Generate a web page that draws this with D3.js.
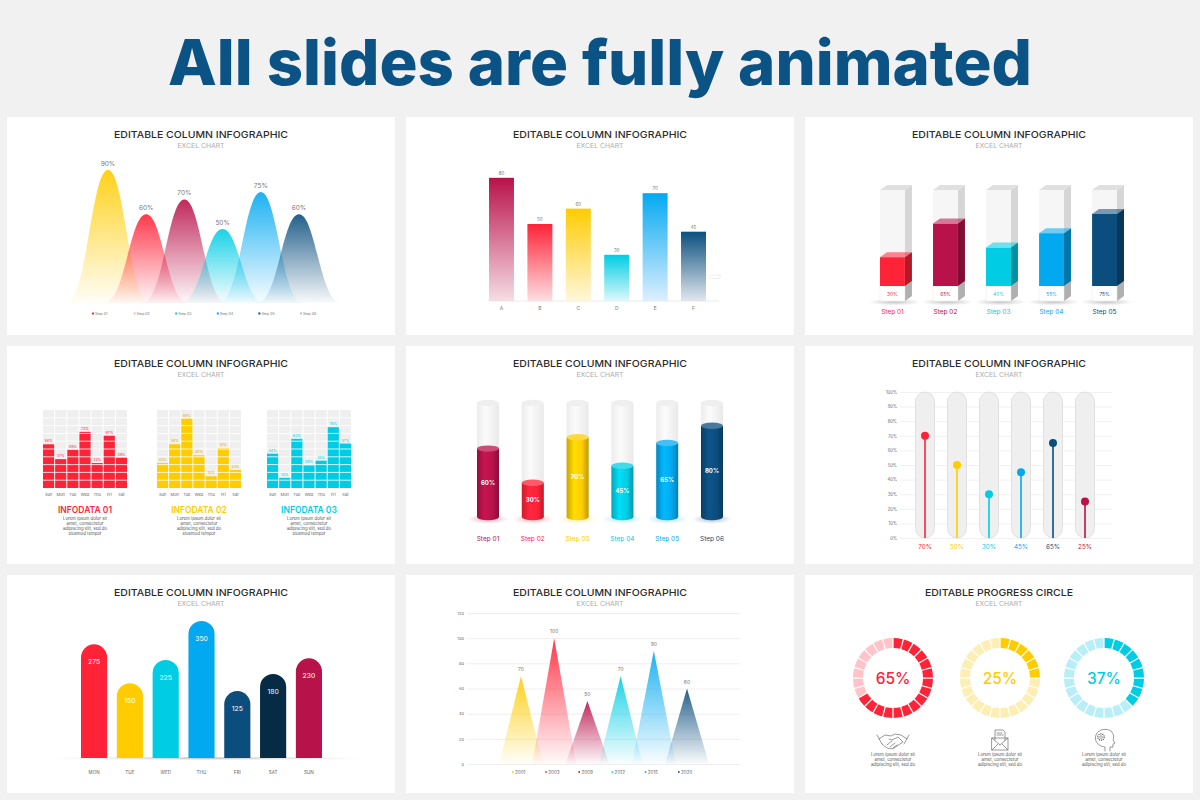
<!DOCTYPE html>
<html>
<head>
<meta charset="utf-8">
<script src="https://cdn.jsdelivr.net/npm/d3@7"></script>
<style>
  html, body { margin: 0; padding: 0; background: #f1f1f1; }
  svg text { font-family: Inter, "Open Sans", sans-serif; }
</style>
</head>
<body>
<svg id="chart" width="1200" height="800"></svg>
<script>
// colours used across the slides
var RED = "#ff2338", YELLOW = "#ffcc00", CRIMSON = "#b8124a", CYAN = "#00cde4",
    BLUE = "#03a9f0", NAVY = "#0b4e7e", INK = "#062b45";

// slide 1 - bell curves
var bellSteps = ["Step 01", "Step 02", "Step 03", "Step 04", "Step 05", "Step 06"];
var bellValues = [90, 60, 70, 50, 75, 60];
var bellColors = [YELLOW, RED, CRIMSON, CYAN, BLUE, NAVY];
var bellLegendColors = [RED, "#ffb3bb", CYAN, BLUE, NAVY, "#a9c4d8"];

// slide 2 - gradient columns
var colCats = ["A", "B", "C", "D", "E", "F"];
var colValues = [80, 50, 60, 30, 70, 45];
var colColors = [CRIMSON, RED, YELLOW, CYAN, BLUE, NAVY];
var colPale = ["#f6dde4", "#ffdfe2", "#fff7dc", "#dff8fb", "#ddefff", "#e2e7ed"];

// slide 3 - 3d boxes
var boxSteps = ["Step 01", "Step 02", "Step 03", "Step 04", "Step 05"];
var boxValues = [30, 65, 40, 55, 75];
var boxColors = [RED, CRIMSON, CYAN, BLUE, NAVY];

// slide 4 - grid columns
var days = ["Sun", "Mon", "Tue", "Wed", "Thu", "Fri", "Sat"];
var info1 = [56, 37, 49, 72, 32, 67, 39];
var info2 = [32, 56, 89, 42, 15, 51, 23];
var info3 = [44, 13, 63, 29, 35, 78, 57];
var infoNames = ["INFODATA 01", "INFODATA 02", "INFODATA 03"];
var infoColors = [RED, YELLOW, CYAN];
var infoLabelColors = [RED, "#d9a900", CYAN];
var lorem4 = ["Lorem ipsum dolor sit", "amet, consectetur", "adipiscing elit, sed do", "eiusmod tempor"];

// slide 5 - cylinders
var cylSteps = ["Step 01", "Step 02", "Step 03", "Step 04", "Step 05", "Step 06"];
var cylValues = [60, 30, 70, 45, 65, 80];
var cylColors = [CRIMSON, RED, YELLOW, CYAN, BLUE, NAVY];

// slide 6 - lollipops
var lolValues = [70, 50, 30, 45, 65, 25];
var lolColors = [RED, YELLOW, CYAN, BLUE, NAVY, CRIMSON];
var pctTicks = [0, 10, 20, 30, 40, 50, 60, 70, 80, 90, 100];

// slide 7 - rounded columns
var weekDays = ["MON", "TUE", "WED", "THU", "FRI", "SAT", "SUN"];
var weekValues = [275, 150, 225, 350, 125, 180, 230];
var weekColors = [RED, YELLOW, CYAN, BLUE, NAVY, INK, CRIMSON];

// slide 8 - triangles
var years = ["2001", "2003", "2009", "2012", "2015", "2020"];
var yearValues = [70, 100, 50, 70, 90, 60];
var yearColors = [YELLOW, RED, CRIMSON, CYAN, BLUE, NAVY];
var yearTicks = [0, 20, 40, 60, 80, 100, 120];

// slide 9 - progress circles
var progValues = [65, 25, 37];
var progColors = [RED, YELLOW, CYAN];
var progPale = ["#ffc3c9", "#fdeeb3", "#b8eef7"];
var lorem3 = ["Lorem ipsum dolor sit", "amet, consectetur", "adipiscing elit, sed do"];
var ringSegments = 24;

var svg = d3.select("#chart");
var defs = svg.append("defs");

function vGrad(id, c1, c2, o1, o2) {
  var g = defs.append("linearGradient").attr("id", id)
      .attr("x1", 0).attr("y1", 0).attr("x2", 0).attr("y2", 1);
  g.append("stop").attr("offset", "0%").attr("stop-color", c1).attr("stop-opacity", o1);
  g.append("stop").attr("offset", "100%").attr("stop-color", c2).attr("stop-opacity", o2);
  return "url(#" + id + ")";
}
function hGrad(id, stops) {
  var g = defs.append("linearGradient").attr("id", id)
      .attr("x1", 0).attr("y1", 0).attr("x2", 1).attr("y2", 0);
  stops.forEach(function(s) {
    g.append("stop").attr("offset", s[0]).attr("stop-color", s[1]).attr("stop-opacity", s[2] == null ? 1 : s[2]);
  });
  return "url(#" + id + ")";
}
function rGrad(id, c, o) {
  var g = defs.append("radialGradient").attr("id", id);
  g.append("stop").attr("offset", "0%").attr("stop-color", c).attr("stop-opacity", o);
  g.append("stop").attr("offset", "100%").attr("stop-color", c).attr("stop-opacity", 0);
  return "url(#" + id + ")";
}
function txt(g, x, y, s, size, fill, anchor, weight) {
  return g.append("text").attr("x", x).attr("y", y)
    .attr("font-size", size).attr("fill", fill)
    .attr("text-anchor", anchor || "middle")
    .attr("font-weight", weight || 400)
    .text(s);
}

// big heading
svg.append("text")
  .attr("x", 600).attr("y", 85)
  .attr("text-anchor", "middle")
  .attr("font-size", 63).attr("font-weight", 800)
  .attr("fill", "#0c5385")
  .attr("textLength", 864).attr("lengthAdjust", "spacingAndGlyphs")
  .text("All slides are fully animated");

// white slide cards
var colX = [7, 406, 805], rowY = [117, 346, 575], PW = 388, PH = 218;
function panel(c, r, title, tw) {
  var g = svg.append("g").attr("transform", "translate(" + colX[c] + "," + rowY[r] + ")");
  g.append("rect").attr("width", PW).attr("height", PH).attr("fill", "#fff");
  g.append("text").attr("x", PW / 2).attr("y", 21).attr("text-anchor", "middle")
    .attr("font-size", 9.5).attr("font-weight", 500).attr("fill", "#2b2b2b")
    .attr("textLength", tw).attr("lengthAdjust", "spacingAndGlyphs").text(title);
  g.append("text").attr("x", PW / 2).attr("y", 31).attr("text-anchor", "middle")
    .attr("font-size", 6).attr("fill", "#ababab")
    .attr("textLength", 47).attr("lengthAdjust", "spacingAndGlyphs").text("EXCEL CHART");
  return g;
}

// ---------- slide 1: bells ----------
var p1 = panel(0, 0, "EDITABLE COLUMN INFOGRAPHIC", 174);
var x1 = d3.scalePoint().domain(bellSteps).range([101, 292]);
var y1 = d3.scaleLinear().domain([0, 100]).range([186, 38]);
bellSteps.forEach(function(s, i) {
  var cx = x1(s), top = y1(bellValues[i]), base = y1(0), w = 42;
  var p = d3.path();
  p.moveTo(cx - w, base);
  p.bezierCurveTo(cx - w * 0.5, base, cx - w * 0.4, top, cx, top);
  p.bezierCurveTo(cx + w * 0.4, top, cx + w * 0.5, base, cx + w, base);
  p.closePath();
  p1.append("path").attr("d", p.toString())
    .attr("fill", vGrad("bell" + i, bellColors[i], bellColors[i], 1, 0.03))
    .attr("opacity", 0.9);
  txt(p1, cx, top - 4, bellValues[i] + "%", 6.5, "#777");
});
var xl1 = d3.scalePoint().domain(bellSteps).range([86, 294]);
bellSteps.forEach(function(s, i) {
  p1.append("rect").attr("x", xl1(s) - 1).attr("y", y1(0) + 9.5).attr("width", 2).attr("height", 2)
    .attr("fill", bellLegendColors[i]);
  txt(p1, xl1(s) + 2, y1(0) + 12, s, 3.6, "#777", "start");
});

// ---------- slide 2: gradient columns ----------
var p2 = panel(1, 0, "EDITABLE COLUMN INFOGRAPHIC", 174);
var x2 = d3.scaleBand().domain(colCats).range([83, 300]).paddingInner(0.35);
var y2 = d3.scaleLinear().domain([0, 100]).range([184, 30]);
p2.append("line").attr("x1", 82).attr("x2", 313).attr("y1", y2(0)).attr("y2", y2(0))
  .attr("stroke", "#e6e6e6").attr("stroke-width", 0.8);
colCats.forEach(function(c, i) {
  p2.append("rect").attr("x", x2(c)).attr("y", y2(colValues[i]))
    .attr("width", x2.bandwidth()).attr("height", y2(0) - y2(colValues[i]))
    .attr("fill", vGrad("col" + i, colColors[i], colPale[i], 1, 1));
  txt(p2, x2(c) + x2.bandwidth() / 2, y2(colValues[i]) - 3, colValues[i], 4.5, "#777");
  txt(p2, x2(c) + x2.bandwidth() / 2, y2(0) + 9, c, 4.8, "#777");
});
p2.append("rect").attr("x", 304).attr("y", 158).attr("width", 10).attr("height", 3.5)
  .attr("fill", "#fff").attr("stroke", "#e2e2e2").attr("stroke-width", 0.5);

// ---------- slide 3: 3d boxes ----------
var p3 = panel(2, 0, "EDITABLE COLUMN INFOGRAPHIC", 174);
var x3 = d3.scaleBand().domain(boxSteps).range([75, 312]).paddingInner(0.53);
var y3 = d3.scaleLinear().domain([0, 100]).range([169, 73]);
var bw = x3.bandwidth(), ddx = 7, ddy = 5, boxBottom = 184;
var boxShadow = rGrad("boxShadow", "#000", 0.22);
function poly(pts) { return "M" + pts.map(function(p) { return p.join(","); }).join("L") + "Z"; }
boxSteps.forEach(function(s, i) {
  var x = x3(s), yt = y3(100), y0 = y3(0), yv = y3(boxValues[i]);
  var side = d3.color(boxColors[i]).darker(1).formatHex();
  p3.append("ellipse").attr("cx", x + bw / 2 + 2).attr("cy", boxBottom + 1)
    .attr("rx", 26).attr("ry", 3.5).attr("fill", boxShadow);
  // glass container
  p3.append("path").attr("d", poly([[x + bw, yt], [x + bw + ddx, yt - ddy], [x + bw + ddx, boxBottom - ddy], [x + bw, boxBottom]]))
    .attr("fill", "#d6d6d6");
  p3.append("rect").attr("x", x).attr("y", yt).attr("width", bw).attr("height", y0 - yt).attr("fill", "#f6f6f6");
  p3.append("path").attr("d", poly([[x, yt], [x + ddx, yt - ddy], [x + bw + ddx, yt - ddy], [x + bw, yt]]))
    .attr("fill", "#e0e0e0");
  // base box
  p3.append("path").attr("d", poly([[x + bw, y0], [x + bw + ddx, y0 - ddy], [x + bw + ddx, boxBottom - ddy], [x + bw, boxBottom]]))
    .attr("fill", "#b0b0b0");
  p3.append("rect").attr("x", x).attr("y", y0).attr("width", bw).attr("height", boxBottom - y0)
    .attr("fill", "#fff").attr("stroke", "#e8e8e8").attr("stroke-width", 0.5);
  // coloured fill
  p3.append("path").attr("d", poly([[x + bw, yv], [x + bw + ddx, yv - ddy], [x + bw + ddx, y0 - ddy], [x + bw, y0]]))
    .attr("fill", side);
  p3.append("rect").attr("x", x).attr("y", yv).attr("width", bw).attr("height", y0 - yv).attr("fill", boxColors[i]);
  p3.append("path").attr("d", poly([[x, yv], [x + ddx, yv - ddy], [x + bw + ddx, yv - ddy], [x + bw, yv]]))
    .attr("fill", boxColors[i]).attr("opacity", 0.55);
  txt(p3, x + bw / 2, y0 + 10, boxValues[i] + "%", 4.8, boxColors[i]);
  txt(p3, x + bw / 2, 197, s, 6.5, boxColors[i]);
});

// ---------- slide 4: grid columns ----------
var p4 = panel(0, 1, "EDITABLE COLUMN INFOGRAPHIC", 174);
var gridX = [36, 150, 260], gw = 84;
var y4 = d3.scaleLinear().domain([0, 100]).range([142, 64]);
[info1, info2, info3].forEach(function(vals, k) {
  var x4 = d3.scaleBand().domain(days).range([gridX[k], gridX[k] + gw]).paddingInner(0.08);
  var g = p4.append("g");
  g.selectAll(".bg").data(days).enter().append("rect")
    .attr("x", function(d) { return x4(d); }).attr("y", y4(100))
    .attr("width", x4.bandwidth()).attr("height", y4(0) - y4(100)).attr("fill", "#efefef");
  g.selectAll(".bar").data(vals).enter().append("rect")
    .attr("x", function(d, i) { return x4(days[i]); })
    .attr("y", function(d) { return y4(d); })
    .attr("width", x4.bandwidth())
    .attr("height", function(d) { return y4(0) - y4(d); })
    .attr("fill", infoColors[k]);
  g.selectAll(".row").data(y4.ticks(10).slice(1, -1)).enter().append("line")
    .attr("x1", gridX[k]).attr("x2", gridX[k] + gw)
    .attr("y1", function(d) { return y4(d); }).attr("y2", function(d) { return y4(d); })
    .attr("stroke", "#fff").attr("stroke-width", 0.8);
  vals.forEach(function(v, i) {
    var cx = x4(days[i]) + x4.bandwidth() / 2;
    txt(g, cx, y4(v) - 2, v + "%", 3.6, infoLabelColors[k]);
    txt(g, cx, 150, days[i], 4, "#666");
  });
  var mid = gridX[k] + gw / 2;
  txt(g, mid, 167, infoNames[k], 8.5, infoColors[k], "middle", 600);
  lorem4.forEach(function(l, j) { txt(g, mid, 174 + j * 5, l, 4.3, "#555"); });
});

// ---------- slide 5: cylinders ----------
var p5 = panel(1, 1, "EDITABLE COLUMN INFOGRAPHIC", 174);
var x5 = d3.scalePoint().domain(cylSteps).range([82, 306]);
var y5 = d3.scaleLinear().domain([0, 100]).range([171, 57]);
var cr = 11, cry = 3.2;
var glass = hGrad("glass", [["0%", "#ececec"], ["40%", "#fbfbfb"], ["100%", "#e9e9e9"]]);
cylSteps.forEach(function(s, i) {
  var cx = x5(s), c = d3.color(cylColors[i]);
  var body = hGrad("cyl" + i, [["0%", c.darker(0.6).formatHex()], ["35%", c.brighter(0.25).formatHex()],
                               ["70%", c.formatHex()], ["100%", c.darker(0.8).formatHex()]]);
  var top = d3.interpolateRgb(cylColors[i], "#ffffff")(0.25);
  p5.append("ellipse").attr("cx", cx).attr("cy", y5(0) + 2).attr("rx", 20).attr("ry", 5)
    .attr("fill", rGrad("glow" + i, cylColors[i], 0.35));
  p5.append("rect").attr("x", cx - cr).attr("y", y5(100)).attr("width", cr * 2).attr("height", y5(0) - y5(100))
    .attr("fill", glass);
  p5.append("ellipse").attr("cx", cx).attr("cy", y5(100)).attr("rx", cr).attr("ry", cry).attr("fill", "#efefef");
  p5.append("ellipse").attr("cx", cx).attr("cy", y5(0)).attr("rx", cr).attr("ry", cry).attr("fill", body);
  p5.append("rect").attr("x", cx - cr).attr("y", y5(cylValues[i])).attr("width", cr * 2)
    .attr("height", y5(0) - y5(cylValues[i])).attr("fill", body);
  p5.append("ellipse").attr("cx", cx).attr("cy", y5(cylValues[i])).attr("rx", cr).attr("ry", cry).attr("fill", top);
  txt(p5, cx, (y5(cylValues[i]) + y5(0)) / 2 + 2, cylValues[i] + "%", 6, "#fff", "middle", 700);
  txt(p5, cx, 195, s, 6.5, cylColors[i]);
});

// ---------- slide 6: lollipops ----------
var p6 = panel(2, 1, "EDITABLE COLUMN INFOGRAPHIC", 174);
var x6 = d3.scalePoint().domain(lolValues.map(function(d, i) { return i; })).range([120, 280]);
var y6 = d3.scaleLinear().domain([0, 100]).range([192, 46]);
p6.append("g").attr("transform", "translate(95,0)")
  .call(d3.axisLeft(y6).tickValues(pctTicks).tickSize(-212).tickPadding(3)
        .tickFormat(function(d) { return d + "%"; }))
  .call(function(g) { g.select(".domain").remove(); })
  .call(function(g) { g.selectAll("line").attr("stroke", "#f1f1f1"); })
  .call(function(g) {
    g.selectAll("text").attr("font-size", 4.2).attr("fill", "#666")
      .attr("font-family", "Inter, 'Open Sans', sans-serif");
  });
lolValues.forEach(function(v, i) {
  var cx = x6(i);
  p6.append("rect").attr("x", cx - 9.5).attr("y", y6(100)).attr("width", 19).attr("height", y6(0) - y6(100))
    .attr("rx", 9.5).attr("fill", "#efefef").attr("stroke", "#dadada").attr("stroke-width", 0.8);
  p6.append("line").attr("x1", cx).attr("x2", cx).attr("y1", y6(0)).attr("y2", y6(v))
    .attr("stroke", lolColors[i]).attr("stroke-width", 1.6);
  p6.append("circle").attr("cx", cx).attr("cy", y6(v)).attr("r", 4).attr("fill", lolColors[i]);
  txt(p6, cx, 203, v + "%", 6.3, lolColors[i]);
});

// ---------- slide 7: rounded columns ----------
var p7 = panel(0, 2, "EDITABLE COLUMN INFOGRAPHIC", 174);
var x7 = d3.scaleBand().domain(weekDays).range([74, 315]).paddingInner(0.27);
var y7 = d3.scaleLinear().domain([-90, 350]).range([183, 46]);
p7.append("rect").attr("x", 46).attr("y", y7(-90) - 0.8).attr("width", 308).attr("height", 2.2)
  .attr("fill", hGrad("floor", [["0%", "#ccc", 0], ["50%", "#bbb", 0.8], ["100%", "#ccc", 0]]));
weekDays.forEach(function(d, i) {
  var x = x7(d), w = x7.bandwidth(), r = w / 2, top = y7(weekValues[i]), bot = y7(-90);
  var p = d3.path();
  p.moveTo(x, bot);
  p.lineTo(x, top + r);
  p.arc(x + r, top + r, r, Math.PI, 0);
  p.lineTo(x + w, bot);
  p.closePath();
  p7.append("path").attr("d", p.toString()).attr("fill", weekColors[i]);
  txt(p7, x + r, top + 20, weekValues[i], 6.8, "#fff");
  txt(p7, x + r, 199, d, 4.6, "#666");
});

// ---------- slide 8: triangles ----------
var p8 = panel(1, 2, "EDITABLE COLUMN INFOGRAPHIC", 174);
var x8 = d3.scalePoint().domain(years).range([115, 281]);
var y8 = d3.scaleLinear().domain([0, 120]).range([189, 38]);
p8.append("g").attr("transform", "translate(62,0)")
  .call(d3.axisLeft(y8).tickValues(yearTicks).tickSize(-272).tickPadding(4))
  .call(function(g) { g.select(".domain").remove(); })
  .call(function(g) { g.selectAll("line").attr("stroke", "#efefef"); })
  .call(function(g) {
    g.selectAll("text").attr("font-size", 4).attr("fill", "#666")
      .attr("font-family", "Inter, 'Open Sans', sans-serif");
  });
years.forEach(function(yr, i) {
  var cx = x8(yr), top = y8(yearValues[i]), base = y8(0);
  p8.append("path").attr("d", "M" + (cx - 22) + "," + base + "L" + cx + "," + top + "L" + (cx + 22) + "," + base + "Z")
    .attr("fill", vGrad("tri" + i, yearColors[i], yearColors[i], 1, 0.02)).attr("opacity", 0.9);
  txt(p8, cx, top - 5, yearValues[i], 5, "#777");
  p8.append("rect").attr("x", cx - 9).attr("y", 196.2).attr("width", 1.6).attr("height", 1.6).attr("fill", yearColors[i]);
  txt(p8, cx - 6, 198.5, yr, 4.6, "#666", "start");
});

// ---------- slide 9: progress circles ----------
var p9 = panel(2, 2, "EDITABLE PROGRESS CIRCLE", 148);
var ringX = [88, 195, 299], ringY = 103;
var ringArc = d3.arc().innerRadius(30).outerRadius(40).padAngle(0.025);
var ringPie = d3.pie().value(1).sort(null);
progValues.forEach(function(v, k) {
  var g = p9.append("g").attr("transform", "translate(" + ringX[k] + "," + ringY + ")");
  g.selectAll("path").data(ringPie(d3.range(ringSegments))).enter().append("path")
    .attr("d", ringArc)
    .attr("fill", function(d) {
      return (d.index + 0.5) / ringSegments * 100 < v ? progColors[k] : progPale[k];
    });
  txt(g, 0, 5.5, v + "%", 15.5, progColors[k], "middle", 500);
  lorem3.forEach(function(l, j) { txt(p9, ringX[k], 181 + j * 5, l, 4.3, "#555"); });
});

// line icons under the circles
var iconStroke = { fill: "none", stroke: "#555", "stroke-width": 0.6, "stroke-linejoin": "round", "stroke-linecap": "round" };
function icon(x, y, d) {
  var el = p9.append("path").attr("transform", "translate(" + x + "," + y + ")").attr("d", d);
  Object.keys(iconStroke).forEach(function(k) { el.attr(k, iconStroke[k]); });
}
// handshake
icon(ringX[0], 166,
  "M-16,-6 L-11,3 M16,-6 L11,3 M-14,-2 L-8,-6 L-2,-5 L2,-7 L8,-6 L14,-2" +
  "M-11,3 C-7,7 -3,9 1,7 L10,1 L5,-4 L-1,-1 L-4,-2" +
  "M-6,4 L-1,0 M-3,6 L2,2 M0,7 L4,4");
// envelope with letter
icon(ringX[1], 166,
  "M-8,-3 L8,-3 L8,9 L-8,9 Z M-8,-3 L0,4 L8,-3 M-8,9 L-2,3 M8,9 L2,3" +
  "M-5,-1 L-5,-11 L3,-11 L5,-9 L5,-1 M-3,-8 L2,-8 M-3,-6 L3,-6");
// head with gear
icon(ringX[2], 165,
  "M1,11 L1,7 C-7,6 -10,0 -8,-5 C-6,-11 3,-12 7,-9 C10,-6 10,-2 9,0 L11,3 L9,4 L9,7 L6,7 L6,11");
p9.append("circle").attr("cx", ringX[2] - 3).attr("cy", 162).attr("r", 3.2)
  .attr("fill", "none").attr("stroke", "#555").attr("stroke-width", 1.2).attr("stroke-dasharray", "1.1,0.9");
p9.append("circle").attr("cx", ringX[2] - 3).attr("cy", 162).attr("r", 1.3)
  .attr("fill", "none").attr("stroke", "#555").attr("stroke-width", 0.5);
</script>
</body>
</html>
